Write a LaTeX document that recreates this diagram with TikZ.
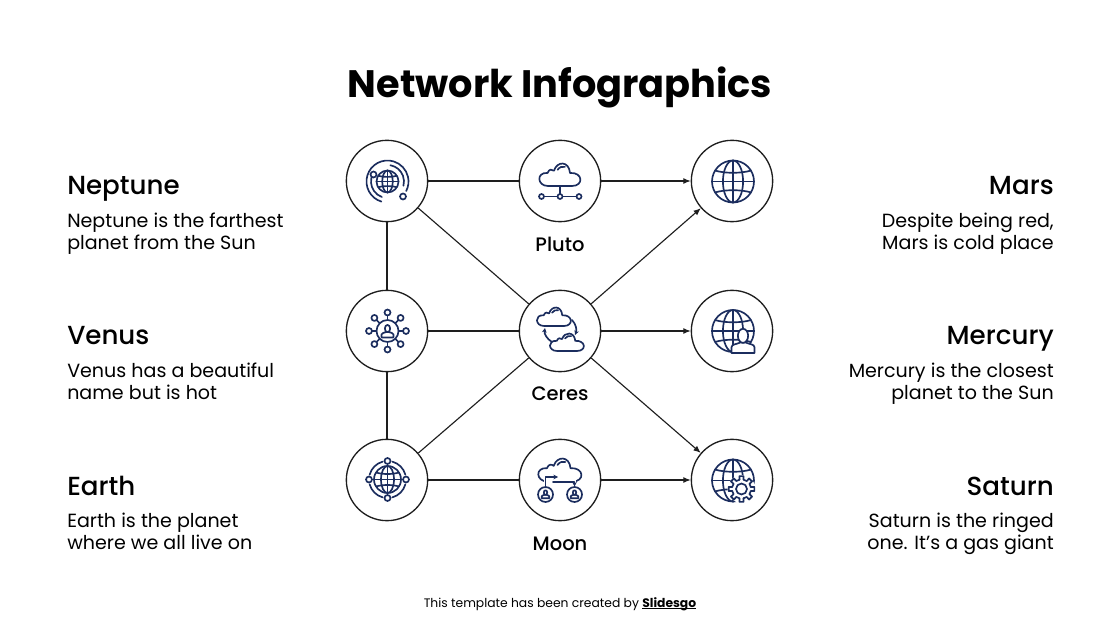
\documentclass[tikz,border=0pt]{standalone}
\usepackage{fontspec}
\setmainfont{Poppins}
\newfontfamily\pmed{Poppins}[UprightFont=* Medium]
\usetikzlibrary{arrows.meta}
\definecolor{navy}{HTML}{1B2D5E}
\definecolor{ink}{HTML}{1E1E1E}
\newcommand\ulbrand[1]{\setbox0\hbox{#1}\rlap{\raisebox{-1.3pt}{\rule{\wd0}{.6pt}}}\box0}
\newcommand\globeicon[3]{% cx cy r
  \begin{scope}[shift={(#1,#2)},scale=#3]
  \draw (0,0) circle (1);
  \draw (0,0) ellipse (0.48 and 1);
  \draw (0,-1) -- (0,1) (-1,0) -- (1,0);
  \draw (-0.85,-0.52) .. controls (-0.4,-0.38) and (0.4,-0.38) .. (0.85,-0.52);
  \draw (-0.85,0.52) .. controls (-0.4,0.38) and (0.4,0.38) .. (0.85,0.52);
  \end{scope}}
\newcommand\cloudicon[5]{% x y xs ys extra
  \begin{scope}[shift={(#1,#2)},xscale=#3,yscale=#4]
  \draw[#5] (-0.6,0) .. controls (-1.15,0) and (-1.2,-0.62) .. (-0.62,-0.58)
    .. controls (-0.55,-0.76) and (-0.4,-0.76) .. (-0.3,-0.68)
    .. controls (-0.15,-1.12) and (0.45,-1.12) .. (0.5,-0.58)
    .. controls (1.15,-0.62) and (1.2,0) .. (0.6,0) -- cycle;
  \draw (-0.12,-0.72) .. controls (-0.02,-0.85) and (0.12,-0.88) .. (0.25,-0.85);
  \end{scope}}
\newcommand\personicon[3]{% x y s
  \begin{scope}[shift={(#1,#2)},scale=#3]
  \draw[fill=white] (-0.85,0.85) -- (-0.85,0.42) .. controls (-0.85,0.2) and (-0.45,0.2) .. (-0.22,0.08)
     -- (0.22,0.08) .. controls (0.45,0.2) and (0.85,0.2) .. (0.85,0.42) -- (0.85,0.85) -- cycle;
  \draw[fill=white] (0,-0.42) ellipse (0.38 and 0.52);
  \end{scope}}
\tikzset{
  disc/.style={circle,draw=ink,line width=1pt,fill=white,minimum size=61pt,inner sep=0pt},
  link/.style={draw=ink,line width=.85pt},
  arrowlink/.style={link,-{Latex[length=5.5pt,width=4.5pt]}},
  icon/.style={navy,draw=navy,line width=1.25pt,line cap=round,line join=round},
  sat/.style={draw=navy,fill=white},
  heading/.style={inner sep=0pt,anchor=base,font=\pmed\fontsize{19.6pt}{22pt}\selectfont},
  body/.style={inner sep=0pt,font=\fontsize{14.3pt}{16.6pt}\selectfont},
  label/.style={inner sep=0pt,anchor=base,font=\pmed\fontsize{14.6pt}{17pt}\selectfont,text=black},
}
\begin{document}
\begin{tikzpicture}[x=.75pt,y=-.75pt]
\useasboundingbox (0,0) rectangle (1120,630);
\fill[white] (0,0) rectangle (1120,630);
\node[inner sep=0pt,anchor=base,font=\bfseries\fontsize{28.7pt}{34pt}\selectfont] (title) at (560,98) {Network Infographics};
% discs
\node[disc] (nep) at (387,181) {};
\node[disc] (plu) at (560,181) {};
\node[disc] (mar) at (732,181) {};
\node[disc] (ven) at (387,331) {};
\node[disc] (cer) at (560,331) {};
\node[disc] (mer) at (732,331) {};
\node[disc] (ear) at (387,480) {};
\node[disc] (moo) at (560,480) {};
\node[disc] (sat) at (732,480) {};
% connectors
\draw[link] (nep) -- (plu);
\draw[arrowlink] (plu) -- (mar);
\draw[link] (nep) -- (ven);
\draw[link] (ven) -- (ear);
\draw[link] (nep) -- (cer);
\draw[link] (ven) -- (cer);
\draw[link] (ear) -- (cer);
\draw[arrowlink] (cer) -- (mar);
\draw[arrowlink] (cer) -- (mer);
\draw[arrowlink] (cer) -- (sat);
\draw[link] (ear) -- (moo);
\draw[arrowlink] (moo) -- (sat);
% icons
\begin{scope}[icon]
% Neptune
\globeicon{387.5}{181.5}{11}
\begin{scope}[shift={(387.5,181.5)}]
\draw (107:21) arc (107:387:21);
\draw (205:16.5) arc (205:110:16.5);
\draw (280:16.5) arc (280:375:16.5);
\draw[sat] (-14,-7) circle (3);
\draw[sat] (15.5,15) circle (3);
\end{scope}
% Pluto
\cloudicon{560}{186}{20}{22.5}{}
\begin{scope}[shift={(560,182)}]
\draw (0,4) -- (0,12);
\draw (-15,14.5) -- (-3,14.5) (3,14.5) -- (16,14.5);
\draw[sat] (-18.5,14.5) circle (2.5);
\draw[sat] (0,14.5) circle (2.5);
\draw[sat] (19,14.5) circle (2.5);
\end{scope}
% Mars
\globeicon{733}{181.5}{21}
% Venus
\begin{scope}[shift={(387.5,331)}]
\foreach \a in {0,45,...,315} {
  \draw (\a:11) -- (\a:15.5);
  \draw[sat] (\a:18.5) circle (3);
}
\draw (0,0) circle (11);
\personicon{0}{0.5}{7}
\end{scope}
% Ceres
\cloudicon{554}{326}{16.5}{18.5}{}
\cloudicon{567}{351}{16.5}{17.5}{}
\begin{scope}[shift={(560,331)}]
\draw[-{Stealth[length=3.5pt,width=3.5pt]}] (12,-11) .. controls (16,-7) and (17,-1) .. (15,4);
\draw[-{Stealth[length=3.5pt,width=3.5pt]}] (-8,11) .. controls (-13,8) and (-16,3) .. (-15,-3);
\end{scope}
% Mercury
\globeicon{733}{331}{21}
\personicon{743}{341.5}{13.5}
% Earth
\begin{scope}[shift={(387.5,479.5)}]
\draw (0,0) circle (13.5);
\draw (0,0) ellipse (6.5 and 13.5);
\draw (0,-13.5) -- (0,13.5) (-13.5,0) -- (13.5,0);
\draw (-11.5,-7) .. controls (-5,-5) and (5,-5) .. (11.5,-7);
\draw (-11.5,7) .. controls (-5,5) and (5,5) .. (11.5,7);
\foreach \a in {45,135,225,315} \draw (\a-30:18.5) arc (\a-30:\a+30:18.5);
\draw[sat] (18.5,0) circle (3);
\draw[sat] (-18.5,0) circle (3);
\draw[sat] (0,18.5) circle (3);
\draw[sat] (0,-18.5) circle (3);
\end{scope}
% Moon
\cloudicon{560}{481.5}{21}{23}{}
\begin{scope}[shift={(560,479.5)}]
\draw[fill=white,draw=white] (-15,-2) rectangle (15,3.5);
\draw[-{Stealth[length=3.5pt,width=3.5pt]}] (-14.5,8) -- (-14.5,-2.5) -- (-2,-2.5);
\draw[-{Stealth[length=3.5pt,width=3.5pt]}] (-7,2.5) -- (14.5,2.5) -- (14.5,7);
\draw (-14.5,15) circle (7.5);
\draw (14.5,15) circle (7.5);
\personicon{-14.5}{15}{4.5}
\personicon{14.5}{15}{4.5}
\end{scope}
% Saturn
\globeicon{733}{480.5}{21}
\begin{scope}[shift={(741.5,489)}]
\fill[white] (0,0) circle (14);
\foreach \a in {0,45,...,315} {
  \draw (\a-12:9.5) -- (\a-9:13) -- (\a+9:13) -- (\a+12:9.5) -- (\a+33:9.5);
}
\draw (0,0) circle (5.5);
\end{scope}
\end{scope}
% labels under discs
\node[label] (lplu) at (560,252) {Pluto};
\node[label] (lcer) at (560,401) {Ceres};
\node[label] (lmoo) at (560,550) {Moon};
% left texts
\node[heading,anchor=base west] (h1) at (67,195) {Neptune};
\node[body,anchor=base west] (b1a) at (67,228) {Neptune is the farthest};
\node[body,anchor=base west] (b1b) at (67,250) {planet from the Sun};
\node[heading,anchor=base west] (h2) at (67,345) {Venus};
\node[body,anchor=base west] (b2a) at (67,378) {Venus has a beautiful};
\node[body,anchor=base west] (b2b) at (67,400) {name but is hot};
\node[heading,anchor=base west] (h3) at (67,495) {Earth};
\node[body,anchor=base west] (b3a) at (67,527) {Earth is the planet};
\node[body,anchor=base west] (b3b) at (67,549) {where we all live on};
% right texts
\node[heading,anchor=base east] (h4) at (1054,195) {Mars};
\node[body,anchor=base east] (b4a) at (1054,228) {Despite being red,};
\node[body,anchor=base east] (b4b) at (1054,250) {Mars is cold place};
\node[heading,anchor=base east] (h5) at (1054,345) {Mercury};
\node[body,anchor=base east] (b5a) at (1054,378) {Mercury is the closest};
\node[body,anchor=base east] (b5b) at (1054,400) {planet to the Sun};
\node[heading,anchor=base east] (h6) at (1054,495) {Saturn};
\node[body,anchor=base east] (b6a) at (1054,527) {Saturn is the ringed};
\node[body,anchor=base east] (b6b) at (1054,549) {one. It’s a gas giant};
% footer
\node[inner sep=0pt,anchor=base,font=\fontsize{9.25pt}{11pt}\selectfont] (foot) at (560,607) {This template has been created by {\bfseries\ulbrand{Slidesgo}}};
\end{tikzpicture}
\end{document}
